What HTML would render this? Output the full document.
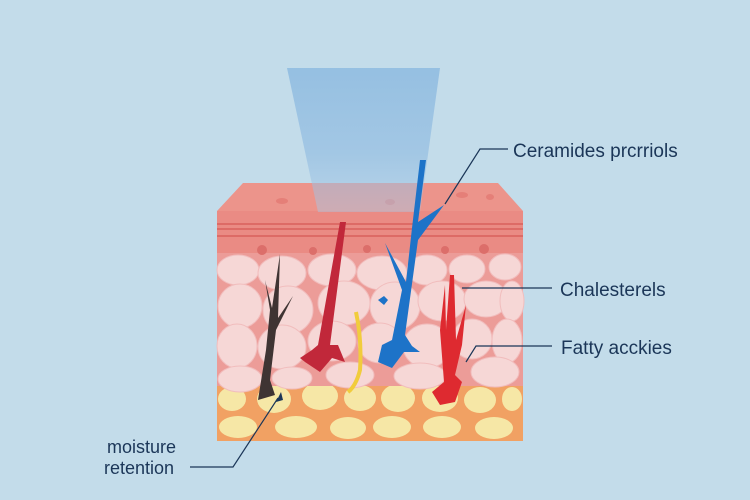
<!DOCTYPE html>
<html><head><style>
html,body{margin:0;padding:0;width:750px;height:500px;overflow:hidden;background:#c3dcea}
svg text{font-family:"Liberation Sans",sans-serif;fill:#1b3658}
</style></head><body>
<svg width="750" height="500" viewBox="0 0 750 500">
<defs>
<linearGradient id="beam" x1="0" y1="0" x2="0" y2="1">
<stop offset="0" stop-color="#86b6df" stop-opacity="0.75"/>
<stop offset="0.6" stop-color="#8db9e0" stop-opacity="0.6"/>
<stop offset="1" stop-color="#a9c9e6" stop-opacity="0.45"/>
</linearGradient>
</defs>
<rect width="750" height="500" fill="#c3dcea"/>
<!-- fat layer -->
<rect x="217" y="384" width="306" height="57" fill="#f1a163"/>
<g fill="#f6e7a6">
<ellipse cx="232" cy="399" rx="14" ry="12"/><ellipse cx="274" cy="399" rx="17" ry="14"/>
<ellipse cx="320" cy="396" rx="18" ry="14"/><ellipse cx="360" cy="398" rx="16" ry="13"/>
<ellipse cx="398" cy="398" rx="17" ry="14"/><ellipse cx="440" cy="398" rx="18" ry="14"/>
<ellipse cx="480" cy="400" rx="16" ry="13"/><ellipse cx="512" cy="399" rx="10" ry="12"/>
<ellipse cx="238" cy="427" rx="19" ry="11"/><ellipse cx="296" cy="427" rx="21" ry="11"/>
<ellipse cx="348" cy="428" rx="18" ry="11"/><ellipse cx="392" cy="427" rx="19" ry="11"/>
<ellipse cx="442" cy="427" rx="19" ry="11"/><ellipse cx="494" cy="428" rx="19" ry="11"/>
</g>
<!-- cell layer -->
<rect x="217" y="250" width="306" height="136" fill="#ec9c98"/>
<g fill="#f6d7d6" stroke="#f1bdbd" stroke-width="1">
<ellipse cx="238" cy="270" rx="21" ry="15"/><ellipse cx="282" cy="273" rx="24" ry="17"/>
<ellipse cx="332" cy="270" rx="24" ry="16"/><ellipse cx="382" cy="273" rx="25" ry="17"/>
<ellipse cx="427" cy="270" rx="20" ry="15"/><ellipse cx="467" cy="269" rx="18" ry="14"/>
<ellipse cx="505" cy="267" rx="16" ry="13"/>
<ellipse cx="240" cy="306" rx="22" ry="22"/><ellipse cx="288" cy="310" rx="25" ry="24"/>
<ellipse cx="344" cy="303" rx="26" ry="22"/><ellipse cx="395" cy="306" rx="25" ry="24"/>
<ellipse cx="442" cy="301" rx="24" ry="20"/><ellipse cx="486" cy="299" rx="22" ry="18"/>
<ellipse cx="512" cy="301" rx="12" ry="20"/>
<ellipse cx="237" cy="346" rx="20" ry="22"/><ellipse cx="282" cy="347" rx="24" ry="22"/>
<ellipse cx="332" cy="341" rx="24" ry="20"/><ellipse cx="380" cy="343" rx="22" ry="20"/>
<ellipse cx="427" cy="346" rx="24" ry="22"/><ellipse cx="472" cy="339" rx="20" ry="20"/>
<ellipse cx="507" cy="341" rx="15" ry="22"/>
<ellipse cx="240" cy="379" rx="22" ry="13"/><ellipse cx="292" cy="378" rx="20" ry="11"/>
<ellipse cx="350" cy="375" rx="24" ry="13"/><ellipse cx="420" cy="376" rx="26" ry="13"/>
<ellipse cx="495" cy="372" rx="24" ry="15"/>
</g>
<!-- epidermis front -->
<rect x="217" y="211" width="306" height="42" fill="#ea8b84"/>
<rect x="217" y="223" width="306" height="2" fill="#dd6b66"/>
<rect x="217" y="228" width="306" height="2" fill="#dd6b66"/>
<rect x="217" y="235" width="306" height="2" fill="#dd6b66"/>
<g fill="#dc6e6a"><circle cx="262" cy="250" r="5"/><circle cx="313" cy="251" r="4"/><circle cx="367" cy="249" r="4"/><circle cx="445" cy="250" r="4"/><circle cx="484" cy="249" r="5"/></g>
<!-- top face -->
<polygon points="243,183 498,183 523,211 217,211" fill="#ec948b"/>
<g fill="#e57f78"><ellipse cx="282" cy="201" rx="6" ry="3"/><ellipse cx="390" cy="202" rx="5" ry="3"/><ellipse cx="462" cy="195" rx="6" ry="3"/><ellipse cx="490" cy="197" rx="4" ry="3"/></g>
<!-- beam -->
<polygon points="287,68 440,68 420,212 318,212" fill="url(#beam)"/>
<!-- dark hair -->
<path d="M258,400 L266,350 L270,310 L265,280 L272,308 L280,254 L278,318 L293,296 L276,330 L270,380 L275,395 Z" fill="#3f3433"/>
<!-- red vessel -->
<path d="M340,222 L346,222 L330,345 L338,345 L345,362 L332,358 L320,372 L305,362 L300,358 L312,350 L318,345 Z" fill="#c1283a"/>
<!-- yellow -->
<path d="M356,312 Q362,340 360,370 Q356,386 348,392" stroke="#f1cc3c" stroke-width="4" fill="none"/>
<!-- blue vessel -->
<path d="M420,160 L426,160 L418,222 L444,205 L418,240 L405,335 L412,346 L420,352 L404,352 L392,368 L378,362 L382,345 L392,340 L402,290 L385,243 L406,282 L412,228 Z" fill="#1d73c8"/>
<path d="M378,300 l6,-4 l4,4 l-4,5 z" fill="#1d73c8"/>
<!-- red thin vessel -->
<path d="M450,275 L454,275 L456,340 L466,305 L462,345 L455,375 L462,382 L455,402 L440,405 L432,392 L444,382 L440,330 L445,285 L446,330 Z" fill="#de2a30"/>
<!-- connectors -->
<g stroke="#1b3658" stroke-width="1.2" fill="none">
<polyline points="508,149 480,149 445,204"/>
<line x1="462" y1="288" x2="552" y2="288"/>
<polyline points="552,346 476,346 466,362"/>
<polyline points="190,467 233,467 278,398"/>
</g>
<polygon points="281,392 276,402 283,400" fill="#1b3658"/>
<text x="513" y="157" font-size="19">Ceramides prcrriols</text>
<text x="560" y="296" font-size="19">Chalesterels</text>
<text x="561" y="354" font-size="19">Fatty acckies</text>
<text x="107" y="453" font-size="18">moisture</text>
<text x="104" y="474" font-size="18">retention</text>
</svg>
</body></html>
